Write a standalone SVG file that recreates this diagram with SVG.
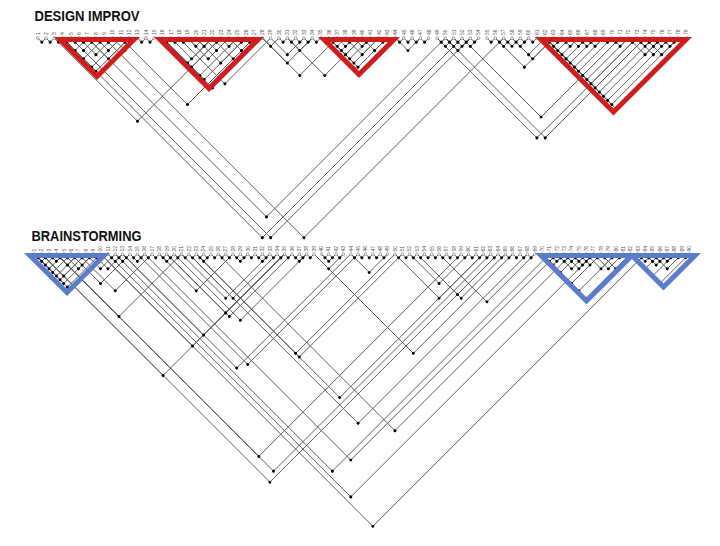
<svg xmlns="http://www.w3.org/2000/svg" width="720" height="546" viewBox="0 0 720 546">
<style>
.ttl{font-family:"Liberation Sans",Arial,sans-serif;font-weight:bold;font-size:14px;fill:#111}
.lb{font-family:"Liberation Sans",Arial,sans-serif;font-size:5px;fill:#555}
.lk{fill:none;stroke:#5e5e5e;stroke-linejoin:miter}
.dt{fill:none;stroke:#000;stroke-linecap:round}
.mo{fill:none;stroke:#9a9a9a;stroke-linecap:round}
.mi{fill:none;stroke:#fff;stroke-linecap:round}
.tr{fill:none;stroke-width:5;stroke-linejoin:miter}
.red{stroke:#d01c1c}
.blue{stroke:#5b7bcb}
</style>
<rect width="720" height="546" fill="#fff"/>
<g id="design-improv">
<text class="ttl" x="34.5" y="21" textLength="105" lengthAdjust="spacingAndGlyphs">DESIGN IMPROV</text>
<g id="top-labels" class="lb" transform="translate(39.5,35) rotate(-90)">
<text y="0">1</text><text y="8.32">2</text><text y="16.64">3</text><text y="24.96">4</text><text y="33.28">5</text><text y="41.6">6</text><text y="49.92">7</text><text y="58.24">8</text><text y="66.56">9</text><text y="74.88">10</text><text y="83.2">11</text><text y="91.52">12</text><text y="99.84">13</text><text y="108.16">14</text><text y="116.48">15</text><text y="124.8">16</text><text y="133.12">17</text><text y="141.44">18</text><text y="149.76">19</text><text y="158.08">20</text><text y="166.4">21</text><text y="174.72">22</text><text y="183.04">23</text><text y="191.36">24</text><text y="199.68">25</text><text y="208">26</text><text y="216.32">27</text><text y="224.64">28</text><text y="232.96">29</text><text y="241.28">30</text><text y="249.6">31</text><text y="257.92">32</text><text y="266.24">33</text><text y="274.56">34</text><text y="282.88">35</text><text y="291.2">36</text><text y="299.52">37</text><text y="307.84">38</text><text y="316.16">39</text><text y="324.48">40</text><text y="332.8">41</text><text y="341.12">42</text><text y="349.44">43</text><text y="357.76">44</text><text y="366.08">45</text><text y="374.4">46</text><text y="382.72">47</text><text y="391.04">48</text><text y="399.36">49</text><text y="407.68">50</text><text y="416">51</text><text y="424.32">52</text><text y="432.64">53</text><text y="440.96">54</text><text y="449.28">55</text><text y="457.6">56</text><text y="465.92">57</text><text y="474.24">58</text><text y="482.56">59</text><text y="490.88">60</text><text y="499.2">61</text><text y="507.52">62</text><text y="515.84">63</text><text y="524.16">64</text><text y="532.48">65</text><text y="540.8">66</text><text y="549.12">67</text><text y="557.44">68</text><text y="565.76">69</text><text y="574.08">70</text><text y="582.4">71</text><text y="590.72">72</text><text y="599.04">73</text><text y="607.36">74</text><text y="615.68">75</text><text y="624">76</text><text y="632.32">77</text><text y="640.64">78</text><text y="648.96">79</text>
</g>
<g id="top-graph" transform="matrix(4.16,-4.16,4.16,4.16,29.38,38)">
<g id="top-links">
<path class="lk" stroke-width="0.16" d="M1 1V2H2M2 2V3H3M3 3V4H4M4 4V5H5M4 4V7H7M4 4V9H9M4 4V11H11M4 4V12H12M6 6V7H7M7 7V8H8M5 5V8H8M6 6V10H10M8 8V11H11M9 9V10H10M10 10V13H13M7 7V12H12M11 11V12H12M5 5V6H6M8 8V9H9M13 13V14H14M14 14V15H15M3 3V23H23M11 11V27H27M7 7V50H50M4 4V52H52M5 5V53H53M9 9V57H57M16 16V17H17M17 17V18H18M18 18V19H19M16 16V22H22M16 16V23H23M16 16V25H25M16 16V26H26M16 16V28H28M18 18V29H29M19 19V21H21M20 20V22H22M21 21V24H24M22 22V23H23M23 23V25H25M24 24V27H27M25 25V26H26M20 20V26H26M19 19V24H24M17 17V22H22M22 22V27H27M26 26V27H27M28 28V30H30M28 28V34H34M28 28V37H37M30 30V31H31M31 31V32H32M32 32V33H33M31 31V34H34M33 33V34H34M29 29V33H33M31 31V40H40M34 34V35H35M36 36V37H37M36 36V38H38M36 36V39H39M36 36V40H40M36 36V41H41M36 36V42H42M36 36V43H43M38 38V39H39M40 40V41H41M42 42V43H43M39 39V41H41M38 38V42H42M40 40V43H43M37 37V39H39M44 44V45H45M45 45V46H46M44 44V47H47M46 46V47H47M47 47V48H48M49 49V50H50M50 50V51H51M51 51V52H52M52 52V53H53M53 53V54H54M49 49V51H51M50 50V52H52M51 51V53H53M50 50V53H53M52 52V54H54M55 55V56H56M56 56V57H57M57 57V58H58M58 58V59H59M59 59V60H60M56 56V58H58M57 57V59H59M58 58V60H60M56 56V63H63M58 58V62H62M58 58V63H63M60 60V61H61M52 52V71H71M50 50V74H74M49 49V73H73M62 62V63H63M62 62V64H64M62 62V65H65M62 62V66H66M62 62V67H67M62 62V68H68M62 62V69H69M62 62V70H70M62 62V71H71M62 62V72H72M62 62V73H73M62 62V74H74M62 62V75H75M62 62V76H76M62 62V77H77M62 62V78H78M62 62V79H79M63 63V64H64M64 64V65H65M66 66V67H67M67 67V68H68M69 69V70H70M70 70V71H71M72 72V73H73M73 73V74H74M74 74V75H75M75 75V76H76M76 76V77H77M77 77V78H78M78 78V79H79M64 64V66H66M67 67V69H69M70 70V72H72M73 73V75H75M74 74V76H76M75 75V77H77M76 76V78H78M72 72V76H76M73 73V77H77M74 74V78H78M66 66V68H68M65 65V67H67"/>
</g>
<g id="top-link-nodes">
<path class="dt" stroke-width="0.5" d="M1 2h0M2 3h0M3 4h0M4 5h0M4 7h0M4 9h0M4 11h0M4 12h0M6 7h0M7 8h0M5 8h0M6 10h0M8 11h0M9 10h0M10 13h0M7 12h0M11 12h0M5 6h0M8 9h0M13 14h0M14 15h0M3 23h0M11 27h0M7 50h0M4 52h0M5 53h0M9 57h0M16 17h0M17 18h0M18 19h0M16 22h0M16 23h0M16 25h0M16 26h0M16 28h0M18 29h0M19 21h0M20 22h0M21 24h0M22 23h0M23 25h0M24 27h0M25 26h0M20 26h0M19 24h0M17 22h0M22 27h0M26 27h0M28 30h0M28 34h0M28 37h0M30 31h0M31 32h0M32 33h0M31 34h0M33 34h0M29 33h0M31 40h0M34 35h0M36 37h0M36 38h0M36 39h0M36 40h0M36 41h0M36 42h0M36 43h0M38 39h0M40 41h0M42 43h0M39 41h0M38 42h0M40 43h0M37 39h0M44 45h0M45 46h0M44 47h0M46 47h0M47 48h0M49 50h0M50 51h0M51 52h0M52 53h0M53 54h0M49 51h0M50 52h0M51 53h0M50 53h0M52 54h0M55 56h0M56 57h0M57 58h0M58 59h0M59 60h0M56 58h0M57 59h0M58 60h0M56 63h0M58 62h0M58 63h0M60 61h0M52 71h0M50 74h0M49 73h0M62 63h0M62 64h0M62 65h0M62 66h0M62 67h0M62 68h0M62 69h0M62 70h0M62 71h0M62 72h0M62 73h0M62 74h0M62 75h0M62 76h0M62 77h0M62 78h0M62 79h0M63 64h0M64 65h0M66 67h0M67 68h0M69 70h0M70 71h0M72 73h0M73 74h0M74 75h0M75 76h0M76 77h0M77 78h0M78 79h0M64 66h0M67 69h0M70 72h0M73 75h0M74 76h0M75 77h0M76 78h0M72 76h0M73 77h0M74 78h0M66 68h0M65 67h0"/>
</g>
<g id="top-moves">
<path class="mo" stroke-width="0.55" d="M1 1h0M2 2h0M3 3h0M4 4h0M5 5h0M6 6h0M7 7h0M8 8h0M9 9h0M10 10h0M11 11h0M12 12h0M13 13h0M14 14h0M15 15h0M16 16h0M17 17h0M18 18h0M19 19h0M20 20h0M21 21h0M22 22h0M23 23h0M24 24h0M25 25h0M26 26h0M27 27h0M28 28h0M29 29h0M30 30h0M31 31h0M32 32h0M33 33h0M34 34h0M35 35h0M36 36h0M37 37h0M38 38h0M39 39h0M40 40h0M41 41h0M42 42h0M43 43h0M44 44h0M45 45h0M46 46h0M47 47h0M48 48h0M49 49h0M50 50h0M51 51h0M52 52h0M53 53h0M54 54h0M55 55h0M56 56h0M57 57h0M58 58h0M59 59h0M60 60h0M61 61h0M62 62h0M63 63h0M64 64h0M65 65h0M66 66h0M67 67h0M68 68h0M69 69h0M70 70h0M71 71h0M72 72h0M73 73h0M74 74h0M75 75h0M76 76h0M77 77h0M78 78h0M79 79h0"/>
<path class="mi" stroke-width="0.3" d="M1 1h0M2 2h0M3 3h0M4 4h0M5 5h0M6 6h0M7 7h0M8 8h0M9 9h0M10 10h0M11 11h0M12 12h0M13 13h0M14 14h0M15 15h0M16 16h0M17 17h0M18 18h0M19 19h0M20 20h0M21 21h0M22 22h0M23 23h0M24 24h0M25 25h0M26 26h0M27 27h0M28 28h0M29 29h0M30 30h0M31 31h0M32 32h0M33 33h0M34 34h0M35 35h0M36 36h0M37 37h0M38 38h0M39 39h0M40 40h0M41 41h0M42 42h0M43 43h0M44 44h0M45 45h0M46 46h0M47 47h0M48 48h0M49 49h0M50 50h0M51 51h0M52 52h0M53 53h0M54 54h0M55 55h0M56 56h0M57 57h0M58 58h0M59 59h0M60 60h0M61 61h0M62 62h0M63 63h0M64 64h0M65 65h0M66 66h0M67 67h0M68 68h0M69 69h0M70 70h0M71 71h0M72 72h0M73 73h0M74 74h0M75 75h0M76 76h0M77 77h0M78 78h0M79 79h0"/>
</g>
</g>
<g id="top-triangles">
<polygon class="tr red" points="60,39.5 134,39.5 97,76.5"/>
<polygon class="tr red" points="160,39.5 258,39.5 209,88.5"/>
<polygon class="tr red" points="324,39.5 394,39.5 359,74.5"/>
<polygon class="tr red" points="541,39.5 686,39.5 613.5,112"/>
</g>
</g>
<g id="brainstorming">
<text class="ttl" x="31.5" y="240.7" textLength="110" lengthAdjust="spacingAndGlyphs">BRAINSTORMING</text>
<g id="bottom-labels" class="lb" transform="translate(36.1,251.5) rotate(-90)">
<text y="0">1</text><text y="7.36">2</text><text y="14.72">3</text><text y="22.08">4</text><text y="29.44">5</text><text y="36.8">6</text><text y="44.16">7</text><text y="51.52">8</text><text y="58.88">9</text><text y="66.24">10</text><text y="73.6">11</text><text y="80.96">12</text><text y="88.32">13</text><text y="95.68">14</text><text y="103.04">15</text><text y="110.4">16</text><text y="117.76">17</text><text y="125.12">18</text><text y="132.48">19</text><text y="139.84">20</text><text y="147.2">21</text><text y="154.56">22</text><text y="161.92">23</text><text y="169.28">24</text><text y="176.64">25</text><text y="184">26</text><text y="191.36">27</text><text y="198.72">28</text><text y="206.08">29</text><text y="213.44">30</text><text y="220.8">31</text><text y="228.16">32</text><text y="235.52">33</text><text y="242.88">34</text><text y="250.24">35</text><text y="257.6">36</text><text y="264.96">37</text><text y="272.32">38</text><text y="279.68">39</text><text y="287.04">40</text><text y="294.4">41</text><text y="301.76">42</text><text y="309.12">43</text><text y="316.48">44</text><text y="323.84">45</text><text y="331.2">46</text><text y="338.56">47</text><text y="345.92">48</text><text y="353.28">49</text><text y="360.64">50</text><text y="368">51</text><text y="375.36">52</text><text y="382.72">53</text><text y="390.08">54</text><text y="397.44">55</text><text y="404.8">56</text><text y="412.16">57</text><text y="419.52">58</text><text y="426.88">59</text><text y="434.24">60</text><text y="441.6">61</text><text y="448.96">62</text><text y="456.32">63</text><text y="463.68">64</text><text y="471.04">65</text><text y="478.4">66</text><text y="485.76">67</text><text y="493.12">68</text><text y="500.48">69</text><text y="507.84">70</text><text y="515.2">71</text><text y="522.56">72</text><text y="529.92">73</text><text y="537.28">74</text><text y="544.64">75</text><text y="552">76</text><text y="559.36">77</text><text y="566.72">78</text><text y="574.08">79</text><text y="581.44">80</text><text y="588.8">81</text><text y="596.16">82</text><text y="603.52">83</text><text y="610.88">84</text><text y="618.24">85</text><text y="625.6">86</text><text y="632.96">87</text><text y="640.32">88</text><text y="647.68">89</text><text y="655.04">90</text>
</g>
<g id="bottom-graph" transform="matrix(3.68,-3.68,3.68,3.68,26.94,254)">
<g id="bottom-links">
<path class="lk" stroke-width="0.18" d="M1 1V2H2M1 1V3H3M1 1V4H4M1 1V5H5M1 1V6H6M1 1V7H7M1 1V8H8M1 1V9H9M1 1V10H10M2 2V3H3M3 3V4H4M4 4V5H5M3 3V5H5M5 5V6H6M6 6V7H7M7 7V8H8M8 8V9H9M9 9V10H10M4 4V7H7M6 6V9H9M2 2V8H8M5 5V9H9M2 2V35H35M2 2V64H64M4 4V21H21M4 4V59H59M4 4V63H63M7 7V17H17M10 10V35H35M10 10V84H84M6 6V14H14M8 8V12H12M9 9V13H13M12 12V71H71M16 16V72H72M11 11V77H77M11 11V12H12M12 12V13H13M13 13V14H14M11 11V13H13M12 12V14H14M14 14V15H15M15 15V16H16M16 16V17H17M14 14V16H16M17 17V18H18M18 18V19H19M19 19V20H20M20 20V21H21M18 18V20H20M21 21V22H22M22 22V23H23M23 23V24H24M24 24V25H25M25 25V26H26M23 23V25H25M26 26V27H27M27 27V28H28M28 28V29H29M29 29V30H30M30 30V31H31M28 28V30H30M31 31V32H32M32 32V33H33M33 33V34H34M34 34V35H35M31 31V33H33M35 35V36H36M36 36V37H37M37 37V38H38M38 38V39H39M36 36V38H38M40 40V41H41M41 41V42H42M42 42V43H43M40 40V42H42M44 44V45H45M45 45V46H46M46 46V47H47M47 47V48H48M48 48V49H49M50 50V51H51M51 51V52H52M52 52V53H53M53 53V54H54M54 54V55H55M55 55V56H56M56 56V57H57M57 57V58H58M58 58V59H59M59 59V60H60M60 60V61H61M61 61V62H62M62 62V63H63M63 63V64H64M64 64V65H65M65 65V66H66M66 66V67H67M67 67V68H68M68 68V69H69M22 22V68H68M26 26V74H74M13 13V35H35M19 19V35H35M19 19V36H36M20 20V38H38M13 13V44H44M15 15V45H45M23 23V50H50M23 23V51H51M23 23V62H62M18 18V28H28M21 21V33H33M22 22V34H34M50 50V62H62M53 53V64H64M53 53V65H65M56 56V69H69M39 39V66H66M44 44V49H49M52 52V60H60M39 39V43H43M70 70V71H71M71 71V72H72M72 72V73H73M73 73V74H74M74 74V75H75M75 75V76H76M76 76V77H77M77 77V78H78M78 78V79H79M79 79V80H80M80 80V81H81M81 81V82H82M70 70V72H72M70 70V73H73M70 70V75H75M70 70V78H78M70 70V80H80M70 70V82H82M71 71V73H73M72 72V74H74M73 73V75H75M74 74V76H76M75 75V77H77M74 74V77H77M75 75V78H78M72 72V76H76M73 73V77H77M76 76V80H80M77 77V81H81M78 78V82H82M82 82V83H83M83 83V84H84M84 84V85H85M85 85V86H86M86 86V87H87M87 87V88H88M88 88V89H89M89 89V90H90M82 82V84H84M82 82V86H86M82 82V88H88M82 82V90H90M83 83V85H85M84 84V86H86M85 85V87H87M86 86V88H88M84 84V87H87M85 85V89H89"/>
</g>
<g id="bottom-link-nodes">
<path class="dt" stroke-width="0.55" d="M1 2h0M1 3h0M1 4h0M1 5h0M1 6h0M1 7h0M1 8h0M1 9h0M1 10h0M2 3h0M3 4h0M4 5h0M3 5h0M5 6h0M6 7h0M7 8h0M8 9h0M9 10h0M4 7h0M6 9h0M2 8h0M5 9h0M2 35h0M2 64h0M4 21h0M4 59h0M4 63h0M7 17h0M10 35h0M10 84h0M6 14h0M8 12h0M9 13h0M12 71h0M16 72h0M11 77h0M11 12h0M12 13h0M13 14h0M11 13h0M12 14h0M14 15h0M15 16h0M16 17h0M14 16h0M17 18h0M18 19h0M19 20h0M20 21h0M18 20h0M21 22h0M22 23h0M23 24h0M24 25h0M25 26h0M23 25h0M26 27h0M27 28h0M28 29h0M29 30h0M30 31h0M28 30h0M31 32h0M32 33h0M33 34h0M34 35h0M31 33h0M35 36h0M36 37h0M37 38h0M38 39h0M36 38h0M40 41h0M41 42h0M42 43h0M40 42h0M44 45h0M45 46h0M46 47h0M47 48h0M48 49h0M50 51h0M51 52h0M52 53h0M53 54h0M54 55h0M55 56h0M56 57h0M57 58h0M58 59h0M59 60h0M60 61h0M61 62h0M62 63h0M63 64h0M64 65h0M65 66h0M66 67h0M67 68h0M68 69h0M22 68h0M26 74h0M13 35h0M19 35h0M19 36h0M20 38h0M13 44h0M15 45h0M23 50h0M23 51h0M23 62h0M18 28h0M21 33h0M22 34h0M50 62h0M53 64h0M53 65h0M56 69h0M39 66h0M44 49h0M52 60h0M39 43h0M70 71h0M71 72h0M72 73h0M73 74h0M74 75h0M75 76h0M76 77h0M77 78h0M78 79h0M79 80h0M80 81h0M81 82h0M70 72h0M70 73h0M70 75h0M70 78h0M70 80h0M70 82h0M71 73h0M72 74h0M73 75h0M74 76h0M75 77h0M74 77h0M75 78h0M72 76h0M73 77h0M76 80h0M77 81h0M78 82h0M82 83h0M83 84h0M84 85h0M85 86h0M86 87h0M87 88h0M88 89h0M89 90h0M82 84h0M82 86h0M82 88h0M82 90h0M83 85h0M84 86h0M85 87h0M86 88h0M84 87h0M85 89h0"/>
</g>
<g id="bottom-moves">
<path class="mo" stroke-width="0.6" d="M1 1h0M2 2h0M3 3h0M4 4h0M5 5h0M6 6h0M7 7h0M8 8h0M9 9h0M10 10h0M11 11h0M12 12h0M13 13h0M14 14h0M15 15h0M16 16h0M17 17h0M18 18h0M19 19h0M20 20h0M21 21h0M22 22h0M23 23h0M24 24h0M25 25h0M26 26h0M27 27h0M28 28h0M29 29h0M30 30h0M31 31h0M32 32h0M33 33h0M34 34h0M35 35h0M36 36h0M37 37h0M38 38h0M39 39h0M40 40h0M41 41h0M42 42h0M43 43h0M44 44h0M45 45h0M46 46h0M47 47h0M48 48h0M49 49h0M50 50h0M51 51h0M52 52h0M53 53h0M54 54h0M55 55h0M56 56h0M57 57h0M58 58h0M59 59h0M60 60h0M61 61h0M62 62h0M63 63h0M64 64h0M65 65h0M66 66h0M67 67h0M68 68h0M69 69h0M70 70h0M71 71h0M72 72h0M73 73h0M74 74h0M75 75h0M76 76h0M77 77h0M78 78h0M79 79h0M80 80h0M81 81h0M82 82h0M83 83h0M84 84h0M85 85h0M86 86h0M87 87h0M88 88h0M89 89h0M90 90h0"/>
<path class="mi" stroke-width="0.33" d="M1 1h0M2 2h0M3 3h0M4 4h0M5 5h0M6 6h0M7 7h0M8 8h0M9 9h0M10 10h0M11 11h0M12 12h0M13 13h0M14 14h0M15 15h0M16 16h0M17 17h0M18 18h0M19 19h0M20 20h0M21 21h0M22 22h0M23 23h0M24 24h0M25 25h0M26 26h0M27 27h0M28 28h0M29 29h0M30 30h0M31 31h0M32 32h0M33 33h0M34 34h0M35 35h0M36 36h0M37 37h0M38 38h0M39 39h0M40 40h0M41 41h0M42 42h0M43 43h0M44 44h0M45 45h0M46 46h0M47 47h0M48 48h0M49 49h0M50 50h0M51 51h0M52 52h0M53 53h0M54 54h0M55 55h0M56 56h0M57 57h0M58 58h0M59 59h0M60 60h0M61 61h0M62 62h0M63 63h0M64 64h0M65 65h0M66 66h0M67 67h0M68 68h0M69 69h0M70 70h0M71 71h0M72 72h0M73 73h0M74 74h0M75 75h0M76 76h0M77 77h0M78 78h0M79 79h0M80 80h0M81 81h0M82 82h0M83 83h0M84 84h0M85 85h0M86 86h0M87 87h0M88 88h0M89 89h0M90 90h0"/>
</g>
</g>
<g id="bottom-triangles">
<polygon class="tr blue" points="30,255.5 104,255.5 67,292.5"/>
<polygon class="tr blue" points="541,255.5 632,255.5 586.5,301"/>
<polygon class="tr blue" points="632,255.5 695,255.5 663.5,287"/>
</g>
</g>
</svg>
